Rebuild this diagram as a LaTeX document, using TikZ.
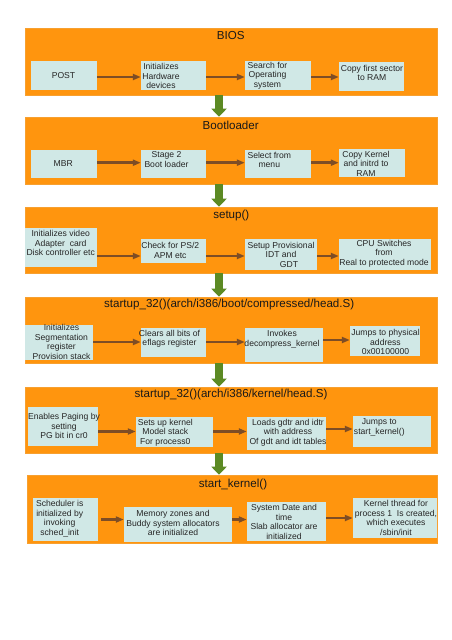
\documentclass[tikz,border=0pt]{standalone}
\usepackage{fontspec}
\setmainfont{Liberation Sans}
\usetikzlibrary{arrows.meta}
\definecolor{bandorange}{HTML}{FF950E}
\definecolor{bandedge}{HTML}{F7A030}
\definecolor{boxcyan}{HTML}{D0E8E6}
\definecolor{flowbrown}{HTML}{7E4D25}
\definecolor{stepgreen}{HTML}{5C8A24}
\begin{document}
\begin{tikzpicture}[x=1pt,y=-1pt,
  band/.style={draw=bandedge,line width=0.6pt,fill=bandorange,inner sep=0pt},
  cbox/.style={fill=boxcyan,draw=none,inner sep=0pt},
  btxt/.style={inner sep=0pt,align=center,font=\fontsize{8.6}{9.5}\selectfont,text=black!85},
  ttl/.style={inner sep=0pt,font=\fontsize{11.6}{13}\selectfont,text=black!90},
  flow/.style={draw=flowbrown,line width=2.5pt,-{Triangle[length=8pt,width=6pt]}},
  garrow/.style={draw=stepgreen,line width=8pt,-{Triangle[length=8pt,width=15pt]}}]
\useasboundingbox[fill=white] (0,0) rectangle (452,640);
% bands
\node[band,minimum width=412pt,minimum height=67pt] (B1) at (231,61.5) {};
\node[band,minimum width=412pt,minimum height=67pt] (B2) at (231,150.5) {};
\node[band,minimum width=412pt,minimum height=66pt] (B3) at (231,240) {};
\node[band,minimum width=412pt,minimum height=66pt] (B4) at (231,330) {};
\node[band,minimum width=412pt,minimum height=66pt] (B5) at (231.5,420) {};
\node[band,minimum width=410pt,minimum height=68pt] (B6) at (232,509) {};
% titles
\node[ttl] (T1) at (230.7,35.5) {BIOS};
\node[ttl] (T2) at (230.7,125) {Bootloader};
\node[ttl] (T3) at (231.3,215) {setup()};
\node[ttl] (T4) at (229.2,304) {startup\_32()(arch/i386/boot/compressed/head.S)};
\node[ttl] (T5) at (231,394) {startup\_32()(arch/i386/kernel/head.S)};
\node[ttl] (T6) at (233,484) {start\_kernel()};
% boxes band 1
\node[cbox,minimum width=66pt,minimum height=29pt] (b11) at (64,75.5) {};
\node[cbox,minimum width=65pt,minimum height=29pt] (b12) at (173.5,75.5) {};
\node[cbox,minimum width=66pt,minimum height=29pt] (b13) at (278,75.5) {};
\node[cbox,minimum width=65pt,minimum height=29pt] (b14) at (371.5,76.5) {};
% band 2
\node[cbox,minimum width=66pt,minimum height=28pt] (b21) at (64,164) {};
\node[cbox,minimum width=65pt,minimum height=28pt] (b22) at (173.5,164) {};
\node[cbox,minimum width=66pt,minimum height=28pt] (b23) at (278,164) {};
\node[cbox,minimum width=66pt,minimum height=28pt] (b24) at (372,163) {};
% band 3
\node[cbox,minimum width=72pt,minimum height=39pt] (b31) at (61,247.5) {};
\node[cbox,minimum width=65pt,minimum height=24pt] (b32) at (173.5,251) {};
\node[cbox,minimum width=72pt,minimum height=31pt] (b33) at (281,254.5) {};
\node[cbox,minimum width=92pt,minimum height=31pt] (b34) at (385,254.5) {};
% band 4
\node[cbox,minimum width=68pt,minimum height=35pt] (b41) at (59,342.5) {};
\node[cbox,minimum width=65pt,minimum height=29pt] (b42) at (173.5,342.5) {};
\node[cbox,minimum width=78pt,minimum height=34pt] (b43) at (284,345) {};
\node[cbox,minimum width=70pt,minimum height=30pt] (b44) at (385,341) {};
% band 5
\node[cbox,minimum width=70pt,minimum height=39pt] (b51) at (63,426.5) {};
\node[cbox,minimum width=77pt,minimum height=30pt] (b52) at (174.5,432) {};
\node[cbox,minimum width=79pt,minimum height=33pt] (b53) at (286.5,433.5) {};
\node[cbox,minimum width=78pt,minimum height=31pt] (b54) at (392,431.5) {};
% band 6
\node[cbox,minimum width=65pt,minimum height=43pt] (b61) at (65.5,519.5) {};
\node[cbox,minimum width=108pt,minimum height=35pt] (b62) at (178,524.5) {};
\node[cbox,minimum width=79pt,minimum height=39pt] (b63) at (286.5,521.5) {};
\node[cbox,minimum width=84pt,minimum height=40pt] (b64) at (395,518) {};
% texts
\node[btxt] (t11) at (63.5,75.3) {POST};
\node[btxt] (t12) at (161,76) {Initializes\\Hardware\\devices};
\node[btxt] (t13) at (267.5,75.5) {Search for\\Operating\\system};
\node[btxt] (t14) at (372,72.8) {Copy first sector\\to RAM};
\node[btxt] (t21) at (63.3,164) {MBR};
\node[btxt] (t22) at (166.5,159.7) {Stage 2\\Boot loader};
\node[btxt] (t23) at (269.3,160) {Select from\\menu};
\node[btxt] (t24) at (366,163.8) {Copy Kernel\\and initrd to\\RAM};
\node[btxt] (t31) at (60.7,243.3) {Initializes video\\Adapter~~card\\Disk controller etc};
\node[btxt] (t32) at (170.3,250.5) {Check for PS/2\\APM etc};
\node[btxt] (t33) at (281,254.6) {Setup Provisional\\IDT and\\\hspace*{16pt}GDT};
\node[btxt] (t34) at (384,253.5) {CPU Switches\\from\\Real to protected mode};
\node[btxt] (t41) at (61.5,342) {Initializes\\Segmentation\\register\\Provision stack};
\node[btxt] (t42) at (169.5,338.8) {Clears all bits of\\eflags register};
\node[btxt] (t43) at (282,339.2) {Invokes\\decompress\_kernel};
\node[btxt] (t44) at (385.5,342.2) {Jumps to physical\\address\\0x00100000};
\node[btxt] (t51) at (64,426.2) {Enables Paging by\\setting\\PG bit in cr0};
\node[btxt] (t52) at (165.3,432.6) {Sets up kernel\\Model stack\\For process0};
\node[btxt] (t53) at (288,432.7) {Loads gdtr and idtr\\with address\\Of gdt and idt tables};
\node[btxt] (t54) at (379.3,427.5) {Jumps to\\start\_kernel()};
\node[btxt] (t61) at (59.7,518.5) {Scheduler is\\initialized by\\invoking\\sched\_init};
\node[btxt] (t62) at (173,523) {Memory zones and\\Buddy system allocators\\are initialized};
\node[btxt] (t63) at (284,521.7) {System Date and\\time\\Slab allocator are\\initialized};
\node[btxt] (t64) at (396,517.7) {Kernel thread for\\process 1~~Is created,\\which executes\\/sbin/init};
% arrow heights
\coordinate (r1) at (0,77);
\coordinate (r2) at (0,162.7);
\coordinate (r3) at (0,256);
\coordinate (r4) at (0,342);
\coordinate (r4b) at (0,340);
\coordinate (r5) at (0,431.5);
\coordinate (r5b) at (0,429);
\coordinate (r6) at (0,519.5);
\coordinate (r6b) at (0,518);
\coordinate (g) at (219,0);
% brown flow arrows
\draw[flow] (b11.east |- r1) -- (b12.west |- r1);
\draw[flow] (b12.east |- r1) -- (b13.west |- r1);
\draw[flow] (b13.east |- r1) -- (b14.west |- r1);
\draw[flow] (b21.east |- r2) -- (b22.west |- r2);
\draw[flow] (b22.east |- r2) -- (b23.west |- r2);
\draw[flow] (b23.east |- r2) -- (b24.west |- r2);
\draw[flow] (b31.east |- r3) -- (b32.west |- r3);
\draw[flow] (b32.east |- r3) -- (b33.west |- r3);
\draw[flow] (b33.east |- r3) -- (b34.west |- r3);
\draw[flow] (b41.east |- r4) -- (b42.west |- r4);
\draw[flow] (b42.east |- r4) -- (b43.west |- r4);
\draw[flow] (b43.east |- r4b) -- (b44.west |- r4b);
\draw[flow] (b51.east |- r5) -- (b52.west |- r5);
\draw[flow] (b52.east |- r5) -- (b53.west |- r5);
\draw[flow] (b53.east |- r5b) -- (b54.west |- r5b);
\draw[flow,shorten <=3pt] (b61.east |- r6) -- (b62.west |- r6);
\draw[flow] (b62.east |- r6) -- (b63.west |- r6);
\draw[flow] (b63.east |- r6b) -- (b64.west |- r6b);
% green stage arrows
\draw[garrow] (B1.south -| g) -- (B2.north -| g);
\draw[garrow] (B2.south -| g) -- (B3.north -| g);
\draw[garrow] (B3.south -| g) -- (B4.north -| g);
\draw[garrow] (B4.south -| g) -- (B5.north -| g);
\draw[garrow] (B5.south -| g) -- (B6.north -| g);
\end{tikzpicture}
\end{document}
